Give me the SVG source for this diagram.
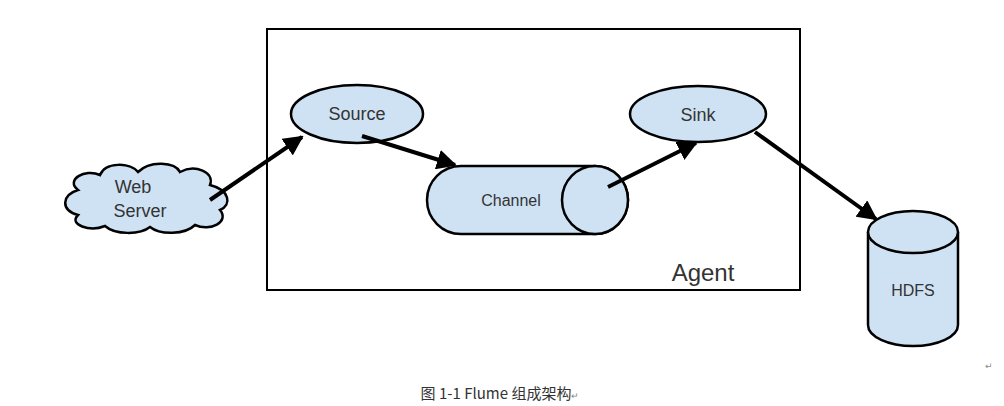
<svg xmlns="http://www.w3.org/2000/svg" width="1004" height="406" viewBox="0 0 1004 406">
<style>
.n{fill:#cfe2f3;stroke:#000;stroke-width:2.5}
.t{font-family:"Liberation Sans",Arial,sans-serif;fill:#333;text-anchor:middle}
.c{stroke:#000;stroke-width:4;fill:none;marker-end:url(#a)}
</style>
<defs><marker id="a" viewBox="0 0 10 10" refX="9" refY="5" markerWidth="5" markerHeight="5" orient="auto" markerUnits="strokeWidth"><path d="M0,0L10,5L0,10z" fill="#000"/></marker></defs>
<rect width="1004" height="406" fill="#fff"/>
<g id="agent"><rect x="267" y="29" width="533" height="261" fill="none" stroke="#000" stroke-width="2"/><text class="t" x="703" y="281" font-size="24" fill="#000">Agent</text></g>
<g id="web"><path class="n" d="M78,190 C65,180 85,168 100,175 C105,162 130,162 138,172 C150,160 175,162 180,172 C195,164 215,172 210,185 C230,190 232,205 220,210 C230,222 210,232 195,225 C185,235 160,235 150,227 C140,235 115,235 105,226 C90,232 68,225 78,215 C60,210 62,195 78,190Z"/><text class="t" x="133" y="193" font-size="18">Web</text><text class="t" x="140" y="217" font-size="18">Server</text></g>
<g id="source"><ellipse class="n" cx="357" cy="114" rx="66" ry="29"/><text class="t" x="357" y="120" font-size="18">Source</text></g>
<g id="channel"><path class="n" d="M461,166H595A33,34 0 0 1 595,234H461A34,34 0 0 1 461,166Z"/><ellipse class="n" cx="595" cy="200" rx="33" ry="34"/><text class="t" x="511" y="206" font-size="16">Channel</text></g>
<g id="sink"><ellipse class="n" cx="698" cy="114" rx="68" ry="28"/><text class="t" x="698" y="121" font-size="18">Sink</text></g>
<g id="hdfs"><path class="n" d="M868,232V325A45,21 0 0 0 958,325V232"/><ellipse class="n" cx="913" cy="232" rx="45" ry="21"/><text class="t" x="913" y="296" font-size="16">HDFS</text></g>
<g id="connectors">
<line class="c" x1="210" y1="200" x2="302" y2="137"/>
<line class="c" x1="362" y1="136" x2="455" y2="165"/>
<line class="c" x1="608" y1="187" x2="696" y2="143"/>
<line class="c" x1="755" y1="132" x2="876" y2="219"/>
</g>
<text x="500" y="399" font-family="'Noto Sans CJK SC','Noto Sans',sans-serif" font-size="15" fill="#333" text-anchor="middle">图 1-1 Flume 组成架构<tspan font-size="9" fill="#888">↵</tspan></text>
<text x="985" y="369" font-family="'DejaVu Sans',sans-serif" font-size="9" fill="#888">↵</text>
</svg>
